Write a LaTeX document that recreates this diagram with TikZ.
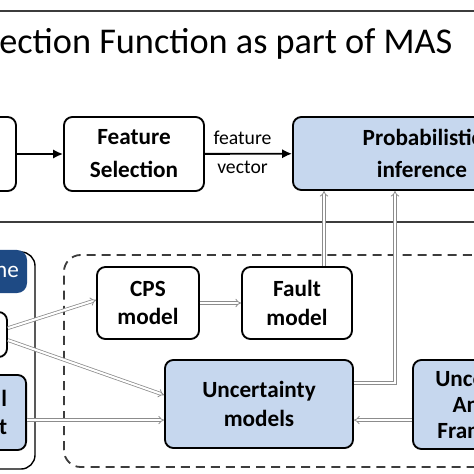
\documentclass[tikz,border=0pt]{standalone}
\usepackage{fontspec}
\setmainfont{Carlito}
\usetikzlibrary{arrows.meta}
\definecolor{boxblue}{RGB}{198,215,238}
\definecolor{tagblue}{RGB}{30,74,132}
\definecolor{framegray}{RGB}{60,60,60}

\begin{document}
\begin{tikzpicture}[
        x=0.025cm, y=-0.025cm,
        box/.style={rectangle, draw, line width=1.3pt, rounded corners=6pt, align=center, font=\fontsize{16.5}{20}\selectfont\bfseries},
        shaded/.style={fill=boxblue},
        arrow/.style={-{Latex[length=7pt, width=6.5pt]}, line width=1.3pt},
        dbl/.style={draw=gray!90, double=white, double distance=1.5pt, line width=0.55pt, -{Implies}}
    ]
        \useasboundingbox (0,0) rectangle (474,474);
        \clip (0,0) rectangle (474,474);

        % MAS frame and title
        \node[draw=framegray, line width=1.5pt, minimum width=13cm, minimum height=5.275cm] (masframe) at (237,116.5) {};
        \node[anchor=base west, inner sep=0pt, font=\fontsize{25.8}{30}\selectfont] (title) at (-1,53) {ection Function as part of MAS};

        % Top row
        \node[box, minimum width=1.9cm, minimum height=1.85cm] (source) at (-22,154) {};
        \node[box, minimum width=3.5cm, minimum height=1.85cm, font=\fontsize{16.5}{23.5}\selectfont\bfseries] (featsel) at (134,154) {Feature\\Selection};
        \node[box, shaded, minimum width=6.45cm, minimum height=1.825cm, font=\fontsize{16.5}{23}\selectfont\bfseries] (prob) at (422,153.5) {Probabilistic\\inference};
        \node[font=\fontsize{14}{20.6}\selectfont, align=center] (fvec) at (242.5,152) {feature\\vector};

        \draw[arrow] (source) -- (featsel);
        \draw[arrow] (featsel) -- (prob);

        % Left panel
        \node[draw, line width=1pt, rounded corners=10pt, minimum width=2.75cm, minimum height=5.425cm] (panel) at (-20,360.5) {};
        \node[fill=tagblue, rounded corners=7pt, text=white, minimum width=1cm, minimum height=1.075cm, font=\fontsize{16.5}{20}\selectfont] (tag) at (7,271.5) {ne};
        \node[box, minimum width=1.35cm, minimum height=1.125cm] (smallbox) at (-20,334.5) {};
        \node[box, shaded, anchor=east, minimum height=1.875cm, text width=1cm, align=right, inner xsep=0.475cm] (inputbox) at (27,412.5) {l\\t};

        % Models
        \node[draw=framegray, line width=1.3pt, rounded corners=12pt, dash pattern=on 6.4pt off 4.3pt, minimum width=14cm, minimum height=5.3cm] (models) at (344,361) {};
        \node[box, minimum width=2.55cm, minimum height=1.8cm] (cps) at (148,303) {CPS\\model};
        \node[box, minimum width=2.75cm, minimum height=1.8cm] (fault) at (297,303) {Fault\\model};
        \node[box, shaded, minimum width=4.7cm, minimum height=2.2cm] (unc) at (259,404) {Uncertainty\\models};
        \node[box, shaded, minimum width=3.95cm, minimum height=2.225cm, font=\fontsize{16.5}{18.5}\selectfont\bfseries] (uaf) at (492,404.5) {Uncertainty\\Analysis\\Framework};

        % Double arrows
        \draw[dbl] ([yshift=1.6mm]smallbox.east) -- ([yshift=0.75mm]cps.west);
        \draw[dbl] ([yshift=-1.4mm]smallbox.east) -- ([yshift=2.25mm]unc.west);
        \draw[dbl] ([yshift=-1.9mm]inputbox.east) -- ([yshift=-1.9mm]inputbox.east -| unc.west);
        \draw[dbl] (cps) -- (fault);
        \draw[dbl] ([xshift=6.75mm]fault.north) -- ([xshift=6.75mm]fault.north |- prob.south);
        \draw[dbl] ([yshift=5.25mm]unc.east) -| ([xshift=-6.75mm]prob.south);
        \draw[dbl] ([yshift=-3.9mm]uaf.west) -- ([yshift=-3.9mm]uaf.west -| unc.east);

    \end{tikzpicture}
\end{document}
